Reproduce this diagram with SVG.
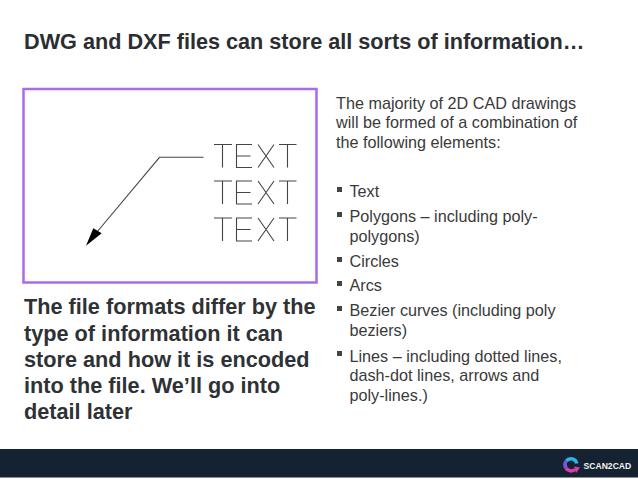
<svg xmlns="http://www.w3.org/2000/svg" width="638" height="479" viewBox="0 0 638 479">
<style>
text{font-family:"Liberation Sans",Arial,sans-serif}
.h{font-size:21.65px;font-weight:700;fill:#2b2e31}
.b{font-size:21.7px;font-weight:700;fill:#2f3235}
.t{font-size:16.2px;fill:#3a3a3a}
.bu{fill:#444}
.cad{fill:none;stroke:#444;stroke-width:1.1}
.lead{fill:none;stroke:#444;stroke-width:1.1}
</style>
<rect width="638" height="479" fill="#fff"/>
<text class="h" x="24" y="49">DWG and DXF files can store all sorts of information…</text>
<rect x="23.500" y="89" width="293" height="193.500" fill="#fff" stroke="#a96be6" stroke-width="2.500"/>
<g id="connectors">
<path class="lead" d="M203.500 157.300H159.500L97 232"/>
<path d="M86 245.700L93.300 228.300L101.700 233.300Z" fill="#000"/>
</g>
<g id="cad-text">
<path id="row1" class="cad" d="M214 144.500H232M222.500 144.500V167.500M252 167.500H236.500V144.500H252M236.500 156H250.500M258 144.500L274 167.500M274 144.500L258 167.500M279 144.500H296.500M287.500 144.500V167.500"/>
<path id="row2" class="cad" d="M214 181H232M222.500 181V204M252 204H236.500V181H252M236.500 192.500H250.500M258 181L274 204M274 181L258 204M279 181H296.500M287.500 181V204"/>
<path id="row3" class="cad" d="M214 218H232M222.500 218V241M252 241H236.500V218H252M236.500 229.500H250.500M258 218L274 241M274 218L258 241M279 218H296.500M287.500 218V241"/>
</g>
<g id="left-text">
<text class="b" x="24" y="314">The file formats differ by the</text>
<text class="b" x="24" y="341">type of information it can</text>
<text class="b" x="24" y="367">store and how it is encoded</text>
<text class="b" x="24" y="393">into the file. We’ll go into</text>
<text class="b" x="24" y="419">detail later</text>
</g>
<g id="right-text">
<text class="t" x="336" y="109">The majority of 2D CAD drawings</text>
<text class="t" x="336" y="128">will be formed of a combination of</text>
<text class="t" x="336" y="148">the following elements:</text>
<rect class="bu" x="337" y="187" width="5" height="5"/>
<text class="t" x="349.500" y="197">Text</text>
<rect class="bu" x="337" y="212" width="5" height="5"/>
<text class="t" x="349.500" y="222">Polygons – including poly-</text>
<text class="t" x="349.500" y="242">polygons)</text>
<rect class="bu" x="337" y="257" width="5" height="5"/>
<text class="t" x="349.500" y="267">Circles</text>
<rect class="bu" x="337" y="281" width="5" height="5"/>
<text class="t" x="349.500" y="291">Arcs</text>
<rect class="bu" x="337" y="306" width="5" height="5"/>
<text class="t" x="349.500" y="316">Bezier curves (including poly</text>
<text class="t" x="349.500" y="336">beziers)</text>
<rect class="bu" x="337" y="351" width="5" height="5"/>
<text class="t" x="349.500" y="362">Lines – including dotted lines,</text>
<text class="t" x="349.500" y="381">dash-dot lines, arrows and</text>
<text class="t" x="349.500" y="401">poly-lines.)</text>
</g>
<g id="footer">
<rect x="0" y="449" width="638" height="28.500" fill="#152231"/>
<g id="logo" fill="none" stroke-width="3.500">
<path d="M566.200 461A6 6 0 0 1 576.800 463.500" stroke="#2bb3ea"/>
<path d="M566.200 461A6 6 0 0 0 566 468" stroke="#7a55e0"/>
<path d="M566 468A6 6 0 0 0 575 469.500" stroke="#d83fa8"/>
<path d="M574 466.500L580 467.500L576 473Z" fill="#d83fa8" stroke="none"/>
</g>
<text x="583.500" y="468.500" font-size="8.600" font-weight="700" fill="#f2f4f6">SCAN2CAD</text>
</g>
</svg>
